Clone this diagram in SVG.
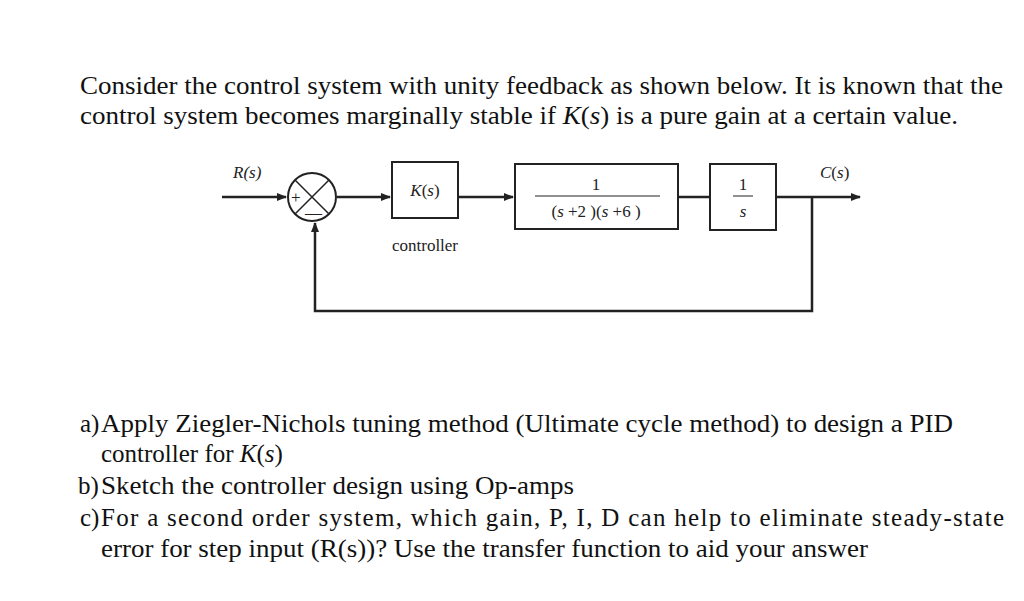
<svg xmlns="http://www.w3.org/2000/svg" width="1024" height="601" viewBox="0 0 1024 601">
<style>
.t{font-family:"Liberation Serif",serif;font-size:25px;fill:#111}
.d{font-family:"Liberation Serif",serif;font-size:17px;fill:#222}
.b{fill:#fff;stroke:#222;stroke-width:2}
.c{fill:none;stroke:#222;stroke-width:2.5}
</style>
<defs><marker id="a" markerWidth="10" markerHeight="8" refX="9" refY="4" orient="auto" markerUnits="userSpaceOnUse"><path d="M0,0L10,4L0,8z" fill="#222"/></marker></defs>
<rect width="1024" height="601" fill="#fff"/>
<text class="t" x="80" y="94" textLength="923" lengthAdjust="spacingAndGlyphs">Consider the control system with unity feedback as shown below. It is known that the</text>
<text class="t" x="80" y="124" textLength="878" lengthAdjust="spacingAndGlyphs">control system becomes marginally stable if <tspan font-style="italic">K</tspan>(<tspan font-style="italic">s</tspan>) is a pure gain at a certain value.</text>
<g id="connectors">
<path class="c" d="M222,197H286" marker-end="url(#a)"/>
<path class="c" d="M337,197H390" marker-end="url(#a)"/>
<path class="c" d="M458,197H513" marker-end="url(#a)"/>
<path class="c" d="M678,197H710"/>
<path class="c" d="M776,197H860" marker-end="url(#a)"/>
<path class="c" d="M812,197V311H315V223" marker-end="url(#a)"/>
</g>
<g id="sum"><circle class="b" cx="312" cy="197" r="24"/><path d="M295,180L329,214M329,180L295,214" stroke="#222" stroke-width="1.5"/>
<text class="d" x="291" y="203">+</text><text class="d" x="305" y="218" font-size="12">—</text></g>
<g id="controller"><rect class="b" x="392" y="162" width="66" height="56"/><text class="d" x="425" y="196" text-anchor="middle"><tspan font-style="italic">K</tspan>(<tspan font-style="italic">s</tspan>)</text>
<text class="d" x="425" y="251" text-anchor="middle">controller</text></g>
<g id="plant"><rect class="b" x="515" y="164" width="163" height="65"/><text class="d" x="596" y="190" text-anchor="middle">1</text><line x1="535" y1="196" x2="660" y2="196" stroke="#222"/><text class="d" x="596" y="217" text-anchor="middle">(<tspan font-style="italic">s</tspan> +2 )(<tspan font-style="italic">s</tspan> +6 )</text></g>
<g id="integrator"><rect class="b" x="710" y="164" width="66" height="66"/><text class="d" x="743" y="190" text-anchor="middle">1</text><line x1="733" y1="196" x2="753" y2="196" stroke="#222"/><text class="d" x="743" y="217" text-anchor="middle" font-style="italic">s</text></g>
<text class="d" x="233" y="178" font-style="italic">R(s)</text>
<text class="d" x="820" y="178"><tspan font-style="italic">C</tspan>(<tspan font-style="italic">s</tspan>)</text>
<text class="t" x="80" y="432">a)</text><text class="t" x="101" y="432" textLength="852" lengthAdjust="spacingAndGlyphs">Apply Ziegler-Nichols tuning method (Ultimate cycle method) to design a PID</text>
<text class="t" x="101" y="462">controller for <tspan font-style="italic">K</tspan>(<tspan font-style="italic">s</tspan>)</text>
<text class="t" x="78" y="494">b)</text><text class="t" x="101" y="494" textLength="473" lengthAdjust="spacingAndGlyphs">Sketch the controller design using Op-amps</text>
<text class="t" x="80" y="526">c)</text><text class="t" x="101" y="526" textLength="903">For a second order system, which gain, P, I, D can help to eliminate steady-state</text>
<text class="t" x="101" y="557" textLength="767" lengthAdjust="spacingAndGlyphs">error for step input (R(s))? Use the transfer function to aid your answer</text>
</svg>
